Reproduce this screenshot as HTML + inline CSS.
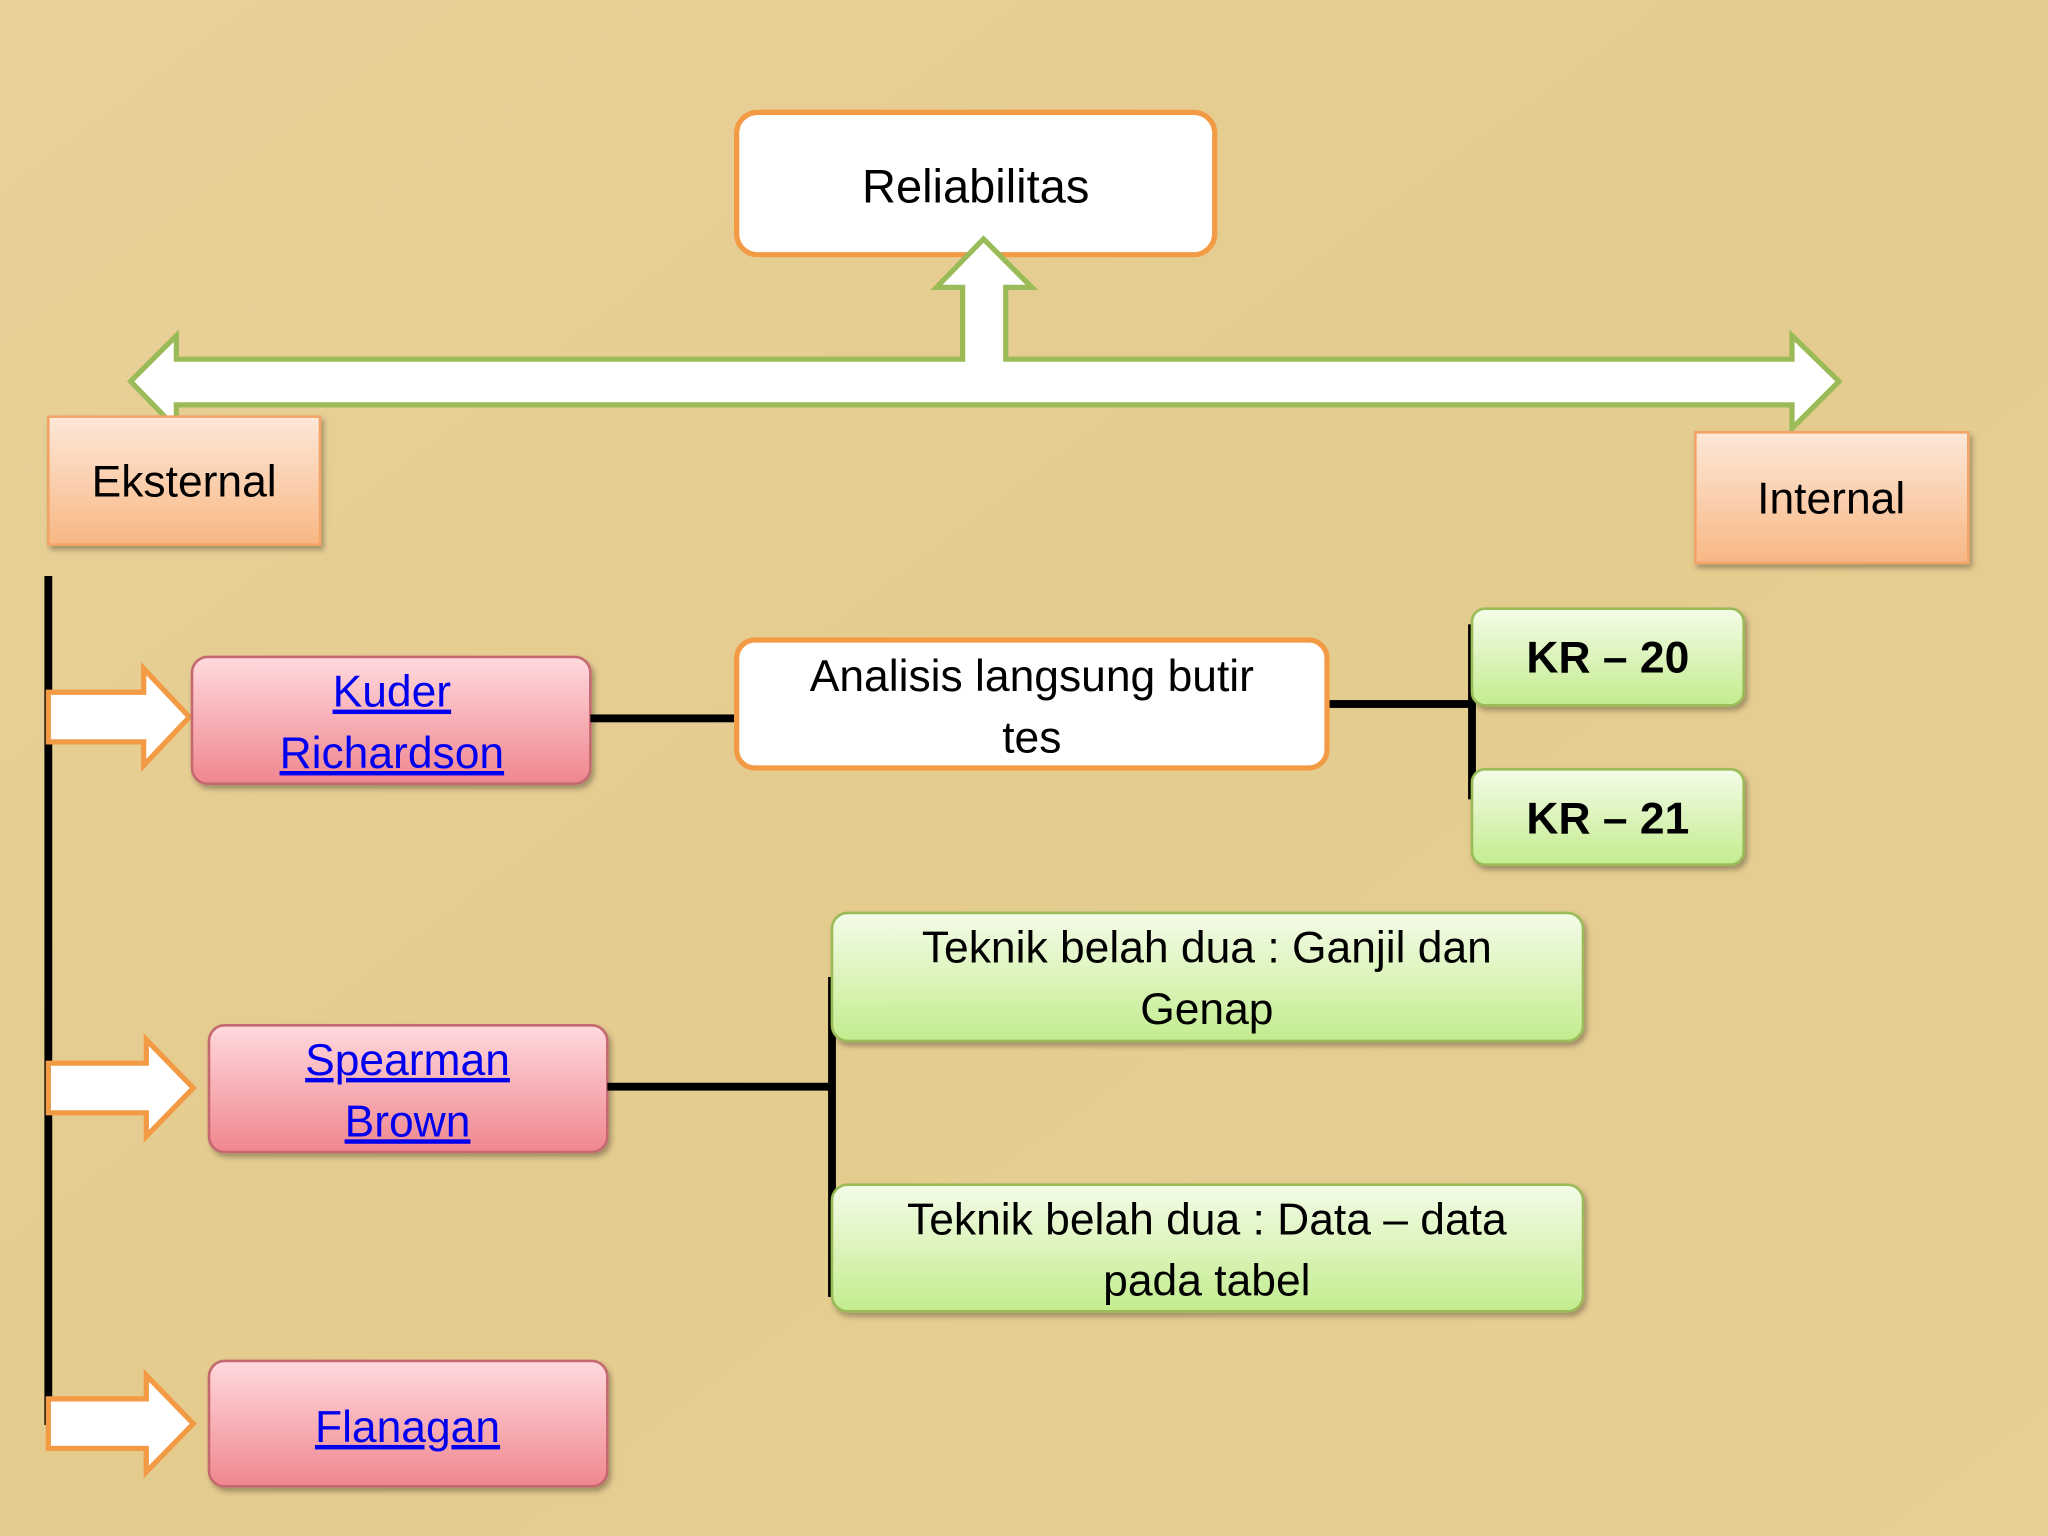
<!DOCTYPE html>
<html><head><meta charset="utf-8"><style>
html,body{margin:0;padding:0;background:#e2c98f;}
svg{display:block}
text{font-family:"Liberation Sans","DejaVu Sans",sans-serif;}
</style></head><body>
<svg width="2048" height="1536" viewBox="0 0 1568 1176" xmlns="http://www.w3.org/2000/svg">
<defs>
<linearGradient id="bg" x1="0" y1="0" x2="1" y2="1"><stop offset="0" stop-color="#e8d199"/><stop offset="0.5" stop-color="#e4cb8e"/><stop offset="1" stop-color="#e7ce94"/></linearGradient>
<linearGradient id="peach" x1="0" y1="0" x2="0" y2="1"><stop offset="0" stop-color="#fde8d8"/><stop offset="1" stop-color="#f8b784"/></linearGradient>
<linearGradient id="pink" x1="0" y1="0" x2="0" y2="1"><stop offset="0" stop-color="#ffd9dd"/><stop offset="1" stop-color="#f0868f"/></linearGradient>
<linearGradient id="green" x1="0" y1="0" x2="0" y2="1"><stop offset="0" stop-color="#f4fce8"/><stop offset="1" stop-color="#c3ec8e"/></linearGradient>
<filter id="sh" x="-10%" y="-10%" width="130%" height="140%"><feDropShadow dx="2" dy="3" stdDeviation="2" flood-opacity="0.3"/></filter>
</defs>
<rect width="1568" height="1176" fill="url(#bg)"/>

<!-- Reliabilitas -->
<rect x="564" y="86" width="366" height="109" rx="16" fill="#fff" stroke="#f39a45" stroke-width="4"/>
<text x="747" y="155" font-size="36" text-anchor="middle">Reliabilitas</text>

<!-- big arrows -->
<polygon points="100,292 135,257 135,275 737,275 737,220 717,220 753,183 790,220 770,220 770,275 1372,275 1372,257 1408,292 1372,328 1372,310 135,310 135,328" fill="#fff" stroke="#9bbb59" stroke-width="4" stroke-linejoin="miter"/>

<!-- Eksternal / Internal -->
<rect x="37" y="319" width="208" height="98" fill="url(#peach)" stroke="#f3a467" stroke-width="2" filter="url(#sh)"/>
<text x="141" y="380" font-size="34" text-anchor="middle">Eksternal</text>
<rect x="1298" y="331" width="209" height="100" fill="url(#peach)" stroke="#f3a467" stroke-width="2" filter="url(#sh)"/>
<text x="1402" y="393" font-size="34" text-anchor="middle">Internal</text>

<!-- vertical line -->
<rect x="34" y="441" width="6" height="650" fill="#000"/>

<!-- orange arrows -->
<g fill="#fff" stroke="#f39a45" stroke-width="4">
<polygon points="37,530 110,530 110,512 145,549 110,586 110,568 37,568"/>
<polygon points="37,814 112,814 112,796 148,833 112,870 112,852 37,852"/>
<polygon points="37,1071 112,1071 112,1053 148,1090 112,1127 112,1109 37,1109"/>
</g>

<!-- pink boxes -->
<g stroke="#c5696f" stroke-width="2" fill="url(#pink)" filter="url(#sh)">
<rect x="147" y="503" width="305" height="97" rx="12"/>
<rect x="160" y="785" width="305" height="97" rx="12"/>
<rect x="160" y="1042" width="305" height="96" rx="12"/>
</g>
<g font-size="34" fill="#0000ee" text-anchor="middle" text-decoration="underline">
<text x="300" y="541">Kuder</text>
<text x="300" y="588">Richardson</text>
<text x="312" y="823">Spearman</text>
<text x="312" y="870">Brown</text>
<text x="312" y="1104">Flanagan</text>
</g>

<!-- connectors -->
<rect x="452" y="547" width="112" height="6" fill="#000"/>
<rect x="1016" y="536" width="112" height="6" fill="#000"/>
<rect x="1124" y="478" width="6" height="134" fill="#000"/>
<rect x="465" y="829" width="172" height="6" fill="#000"/>
<rect x="634" y="748" width="6" height="245" fill="#000"/>

<!-- Analisis -->
<rect x="564" y="490" width="452" height="98" rx="14" fill="#fff" stroke="#f39a45" stroke-width="4"/>
<text x="790" y="529" font-size="34" text-anchor="middle">Analisis langsung butir</text>
<text x="790" y="576" font-size="34" text-anchor="middle">tes</text>

<!-- green boxes -->
<g stroke="#9bbb59" stroke-width="2" fill="url(#green)" filter="url(#sh)">
<rect x="1127" y="466" width="208" height="74" rx="10"/>
<rect x="1127" y="589" width="208" height="73" rx="10"/>
<rect x="637" y="699" width="575" height="98" rx="12"/>
<rect x="637" y="907" width="575" height="97" rx="12"/>
</g>
<text x="1231" y="515" font-size="34" font-weight="bold" text-anchor="middle">KR – 20</text>
<text x="1231" y="638" font-size="34" font-weight="bold" text-anchor="middle">KR – 21</text>
<g font-size="34" text-anchor="middle">
<text x="924" y="737">Teknik belah dua : Ganjil dan</text>
<text x="924" y="784">Genap</text>
<text x="924" y="945">Teknik belah dua : Data – data</text>
<text x="924" y="992">pada tabel</text>
</g>
</svg>
</body></html>
